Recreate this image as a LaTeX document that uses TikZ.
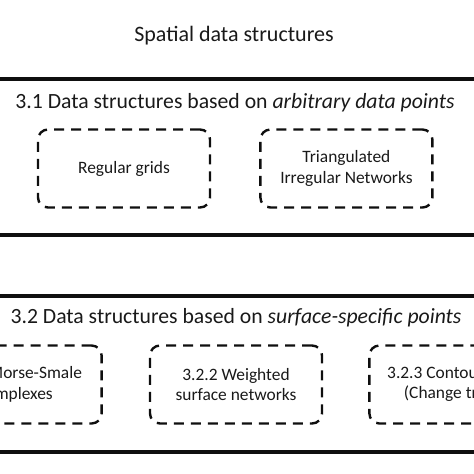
\documentclass[tikz,border=0pt]{standalone}
\usepackage{fontspec}
\setmainfont{Carlito}
\usepackage{xcolor}
\usepackage{tikz}
\usetikzlibrary{
  positioning
}
\definecolor{inkgray}{RGB}{25,25,25}
\definecolor{framegray}{RGB}{15,15,15}

\begin{document}
\begin{tikzpicture}[
  x=1pt, y=-1pt,
  section/.style={draw=framegray, line width=3.2pt, minimum width=494pt,
                  minimum height=156pt, inner sep=0pt},
  heading/.style={text=inkgray, font=\fontsize{21.7}{25}\selectfont},
  leaf/.style={draw=framegray, line width=2.4pt, rounded corners=10pt,
               dash pattern=on 10pt off 7pt, minimum width=172pt,
               minimum height=78pt, align=center, text=inkgray,
               font=\fontsize{17.4}{20.5}\selectfont},
  node distance=48pt
]
\useasboundingbox (0,0) rectangle (474,474);
\clip (0,0) rectangle (474,474);

% ── Title ──
\node[heading, font=\fontsize{22}{26}\selectfont] at (234,36) (title)
  {Spatial data structures};

% ── Section 3.1 ──
\node[section] at (237,157) (sec1) {};
\node[heading] at (235,103) (head1)
  {3.1 Data structures based on \textit{arbitrary data points}};
\node[leaf] at (124,168.5) (grids) {Regular grids};
\node[leaf, right=48pt of grids] (tin)
  {Triangulated\\Irregular Networks};

% ── Section 3.2 ──
\node[section] at (237,374) (sec2) {};
\node[heading] at (236,318) (head2)
  {3.2 Data structures based on \textit{surface-specific points}};
\node[leaf] at (236,384.5) (wsn) {3.2.2 Weighted\\surface networks};
\node[leaf, left=46pt of wsn] (msc) {3.2.1 Morse-Smale\\complexes};
\node[leaf, right=45pt of wsn] (ctree) {3.2.3 Contour trees\\(Change trees)};

\end{tikzpicture}
\end{document}
